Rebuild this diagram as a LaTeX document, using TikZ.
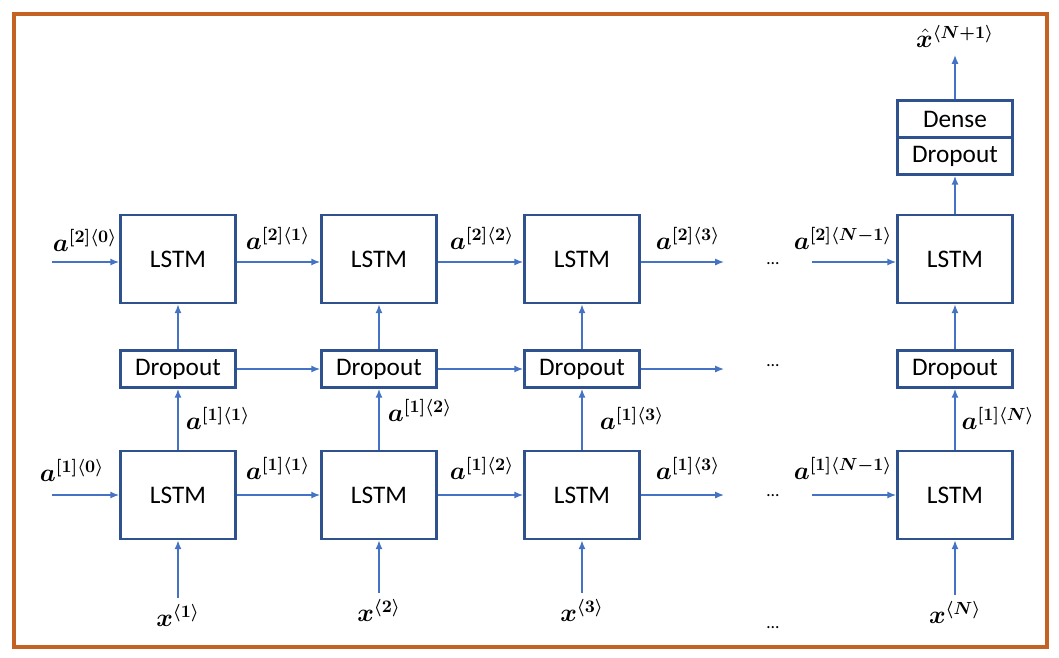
\documentclass[tikz,border=0pt]{standalone}
\usepackage{fontspec}
\usepackage{amsmath,bm}
\setmainfont{Carlito}
\usetikzlibrary{arrows.meta,positioning}
\definecolor{boxblue}{RGB}{47,82,143}
\definecolor{arrblue}{RGB}{68,114,196}
\definecolor{frame}{RGB}{196,98,36}
\tikzset{
  cell/.style={draw=boxblue, line width=1.6pt, minimum width=2.3cm, minimum height=1.76cm, font=\Large},
  drop/.style={draw=boxblue, line width=1.6pt, minimum width=2.3cm, minimum height=0.74cm, font=\Large},
  flow/.style={arrblue, line width=0.8pt, -{Latex[length=5pt,width=4pt]}},
  lab/.style={font=\Large}
}
\newcommand{\act}[2]{$\bm{a^{[#1]\langle #2\rangle}}$}
\begin{document}
\begin{tikzpicture}[x=0.02cm,y=-0.02cm]
    \useasboundingbox (0,0) rectangle (1059,657);
    % frame
    \draw[frame, line width=2.2pt] (14,14) rectangle (1047,647);

    % LSTM layer 2
    \node[cell] (up1) at (178,259) {LSTM};
    \node[cell] (up2) at (379,259) {LSTM};
    \node[cell] (up3) at (582,259) {LSTM};
    \node[cell] (upN) at (955,259) {LSTM};

    % Dropout layer
    \node[drop] (dr1) at (178,369) {Dropout};
    \node[drop] (dr2) at (379,369) {Dropout};
    \node[drop] (dr3) at (582,369) {Dropout};
    \node[drop] (drN) at (955,369) {Dropout};

    % LSTM layer 1
    \node[cell] (lo1) at (178,495) {LSTM};
    \node[cell] (lo2) at (379,495) {LSTM};
    \node[cell] (lo3) at (582,495) {LSTM};
    \node[cell] (loN) at (955,495) {LSTM};

    % Output head
    \node[drop] (dout) at (955,156) {Dropout};
    \node[drop, anchor=south, yshift=-1.6pt] (dense) at (dout.north) {Dense};

    % free ends
    \coordinate (in2) at (52,262);
    \coordinate (in1) at (52,495);
    \coordinate (o2) at (724,262);
    \coordinate (od) at (724,369);
    \coordinate (o1) at (724,495);
    \coordinate (s2) at (812,262);
    \coordinate (s1) at (812,495);
    \coordinate (top) at (955,55);

    % inputs
    \node[lab] (x1) at (178,615) {$\bm{x^{\langle 1\rangle}}$};
    \node[lab] (x2) at (379,610) {$\bm{x^{\langle 2\rangle}}$};
    \node[lab] (x3) at (582,610) {$\bm{x^{\langle 3\rangle}}$};
    \node[lab] (xN) at (955,612) {$\bm{x^{\langle N\rangle}}$};
    \node[lab] (xh) at (955,36) {$\bm{\hat{x}^{\langle N+1\rangle}}$};

    % horizontal connections
    \draw[flow] (in2) -- (in2 -| up1.west);
    \draw[flow] (up1.east |- in2) -- (up2.west |- in2);
    \draw[flow] (up2.east |- in2) -- (up3.west |- in2);
    \draw[flow] (up3.east |- in2) -- (o2);
    \draw[flow] (s2) -- (s2 -| upN.west);
    \draw[flow] (dr1) -- (dr2);
    \draw[flow] (dr2) -- (dr3);
    \draw[flow] (dr3) -- (od);
    \draw[flow] (in1) -- (lo1);
    \draw[flow] (lo1) -- (lo2);
    \draw[flow] (lo2) -- (lo3);
    \draw[flow] (lo3) -- (o1);
    \draw[flow] (s1) -- (loN);

    % vertical connections
    \foreach \i in {1,2,3,N} {
        \draw[flow] (x\i) -- (lo\i);
        \draw[flow] (lo\i) -- (dr\i);
        \draw[flow] (dr\i) -- (up\i);
    }
    \draw[flow] (upN) -- (dout);
    \draw[flow] (dense) -- (top);

    % labels
    \node[lab] at (85,240) {\act{2}{0}};
    \node[lab] at (278,238) {\act{2}{1}};
    \node[lab] at (482,238) {\act{2}{2}};
    \node[lab] at (688,238) {\act{2}{3}};
    \node[lab] at (843,238) {\act{2}{N-1}};
    \node[lab] at (72,470) {\act{1}{0}};
    \node[lab] at (278,468) {\act{1}{1}};
    \node[lab] at (482,468) {\act{1}{2}};
    \node[lab] at (688,468) {\act{1}{3}};
    \node[lab] at (843,468) {\act{1}{N-1}};
    \node[lab] at (218,418) {\act{1}{1}};
    \node[lab] at (420,410) {\act{1}{2}};
    \node[lab] at (632,418) {\act{1}{3}};
    \node[lab] at (998,418) {\act{1}{N}};

    % dots
    \node (d2) at (773,264) {\dots};
    \node (dd) at (773,366) {\dots};
    \node (d1) at (773,496) {\dots};
    \node (dx) at (773,628) {\dots};
\end{tikzpicture}
\end{document}
